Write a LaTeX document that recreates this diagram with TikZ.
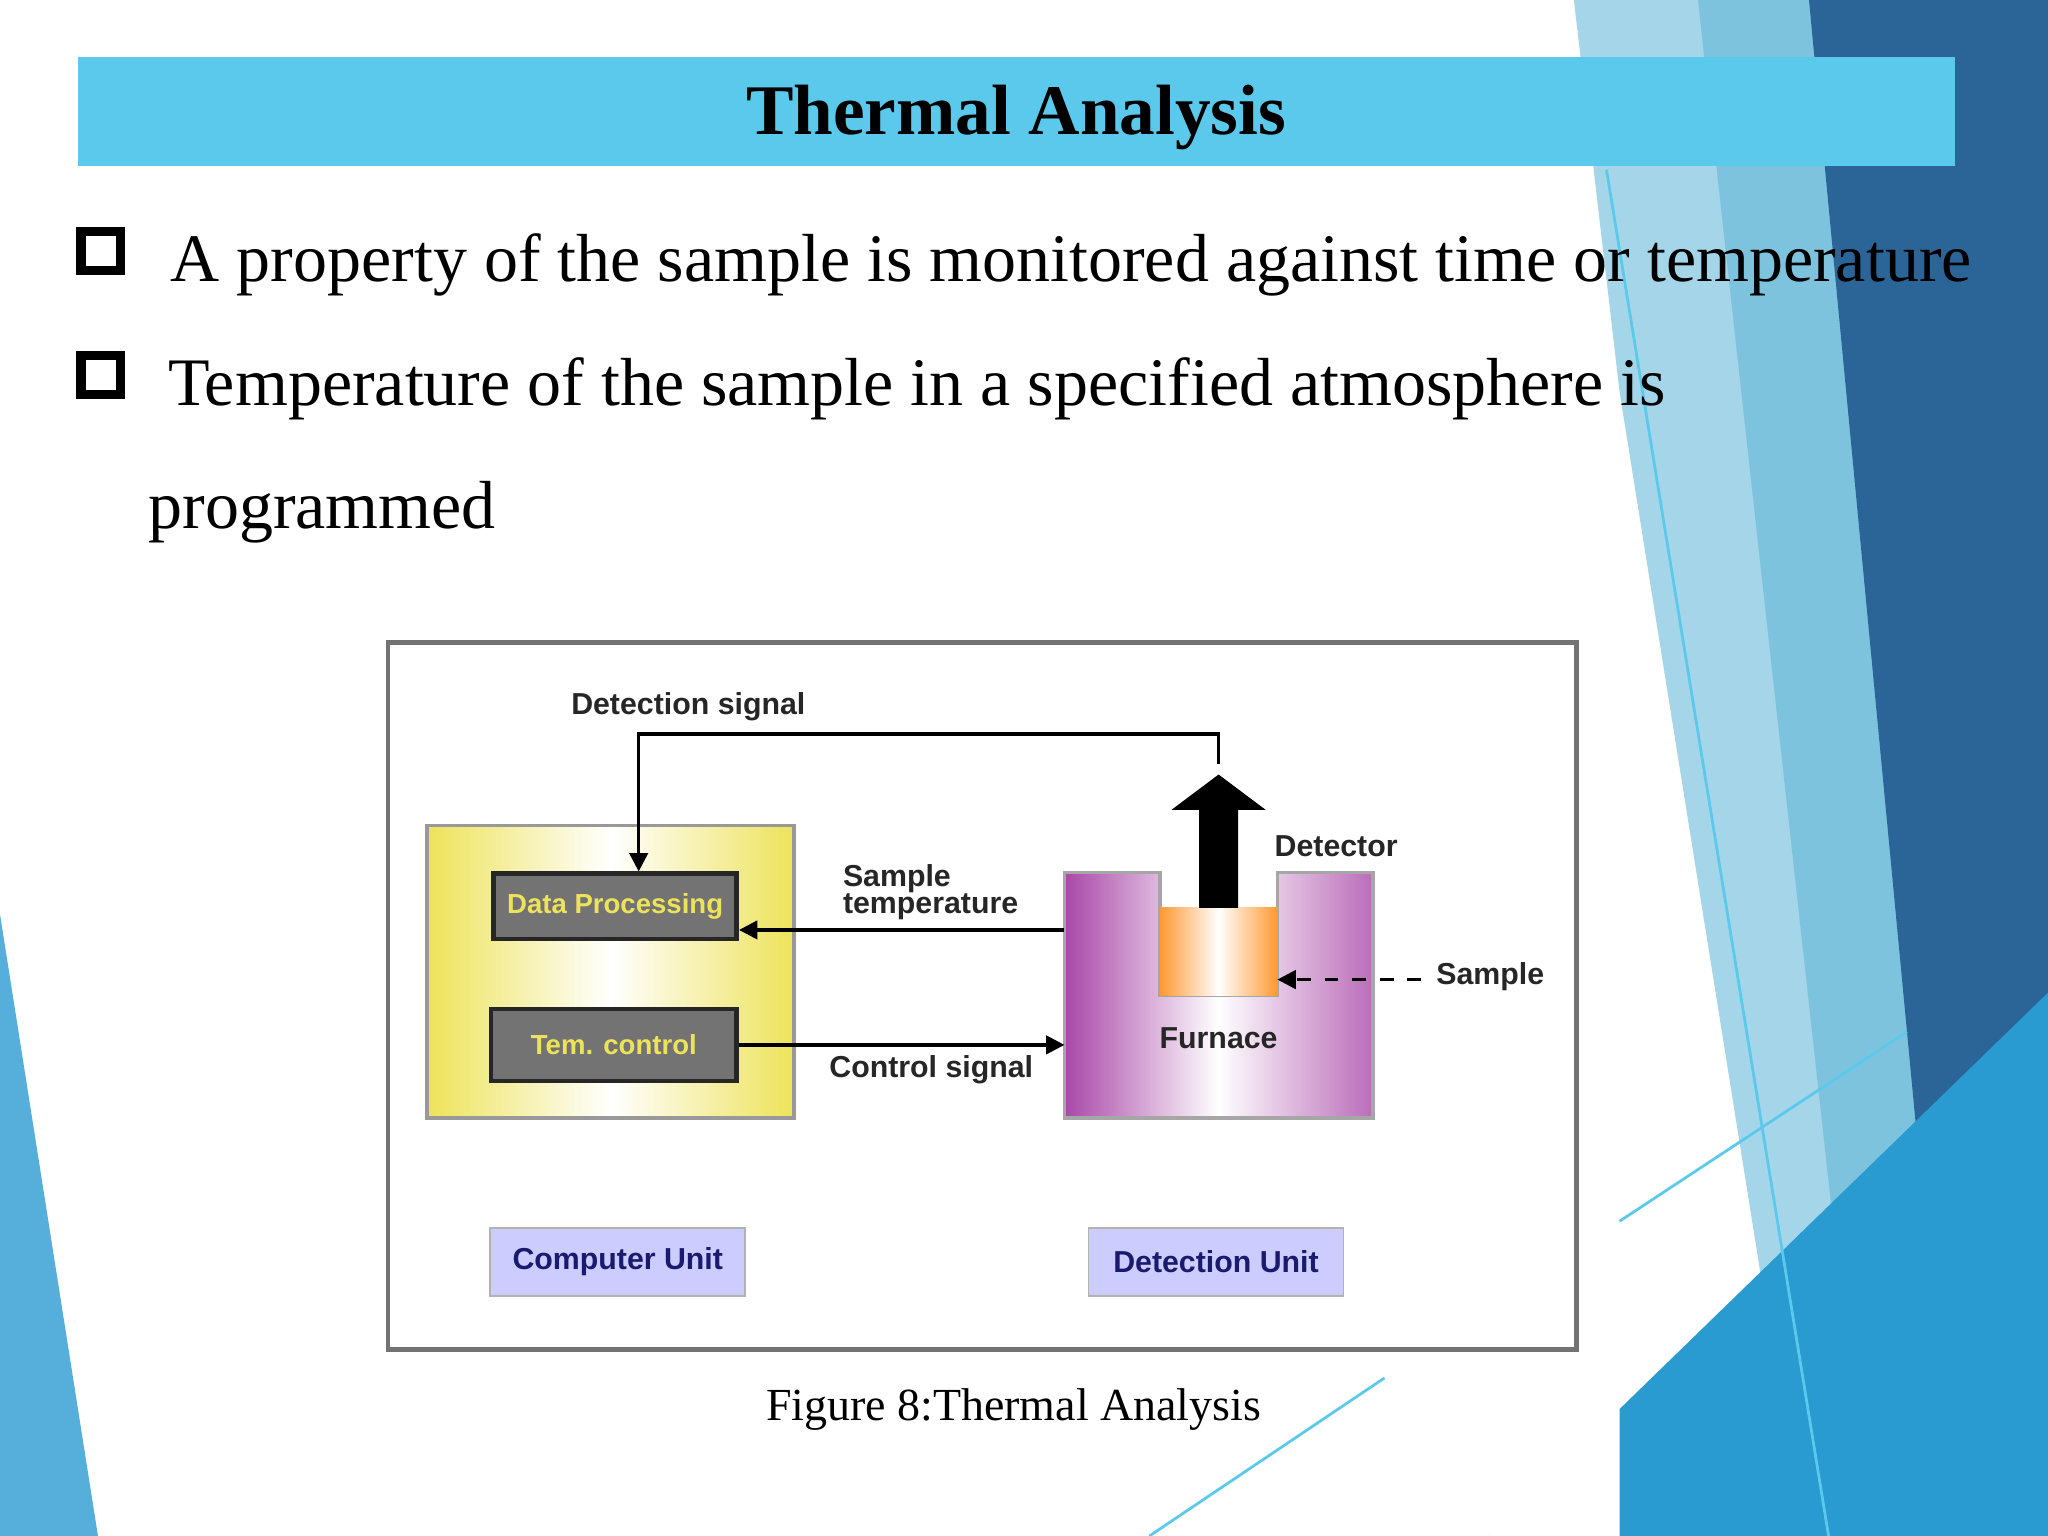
\documentclass[tikz,border=0pt]{standalone}
\usepackage{fontspec}
\setmainfont{Liberation Serif}
\setsansfont{Liberation Sans}
\usetikzlibrary{arrows.meta}
\definecolor{titlebar}{HTML}{5BC9EC}
\definecolor{darkblue}{HTML}{2B6598}
\definecolor{midblue}{HTML}{7EC3DE}
\definecolor{brightblue}{HTML}{2A9BD0}
\definecolor{ylw}{HTML}{EDE35A}
\definecolor{purp}{HTML}{A948A8}
\definecolor{unitfill}{HTML}{CCCCFF}
\definecolor{navy}{HTML}{1A1A6E}
\tikzset{
  lbl/.style={font=\sffamily\bfseries\fontsize{6.6pt}{7pt}\selectfont, text=black!85},
  inner/.style={draw=black!85, line width=1pt, fill=black!55, text=ylw, inner sep=0pt, font=\sffamily\bfseries\fontsize{6pt}{7pt}\selectfont},
  unit/.style={draw=black!30, fill=unitfill, text=navy, font=\sffamily\bfseries\fontsize{6.6pt}{7pt}\selectfont},
  conn/.style={line width=0.7pt, -{Triangle[length=4pt,width=4pt]}},
  bulletbox/.style={draw=black, line width=2pt, fill=white}
}
\begin{document}
\begin{tikzpicture}[x=0.01cm,y=-0.01cm]
\useasboundingbox (0,0) rectangle (1568,1176);
\fill[white] (0,0) rectangle (1568,1176);
% background decoration
\fill[midblue!70] (1205,0) -- (1568,0) -- (1568,1176) -- (1380,1176) -- (1240,300) -- cycle;
\fill[midblue] (1300,0) -- (1568,0) -- (1568,1176) -- (1430,1176) -- cycle;
\fill[darkblue] (1385,0) -- (1568,0) -- (1568,880) -- (1480,1000) -- cycle;
\fill[brightblue!70] (1240,1176) -- (1568,830) -- (1568,1176) -- cycle;
\fill[brightblue] (1140,1176) -- (1568,760) -- (1568,1176) -- (1380,1176) -- cycle;
\fill[brightblue!80!white] (0,700) -- (75,1176) -- (0,1176) -- cycle;
\fill[white] (1240,1055) -- (1240,1176) -- (1140,1176) -- (1210,1055) -- cycle;
\draw[titlebar, line width=0.6pt] (1230,130) -- (1400,1176);
\draw[titlebar, line width=0.6pt] (1240,935) -- (1460,790);
\draw[titlebar, line width=0.6pt] (880,1176) -- (1060,1055);
% title
\fill[titlebar] (60,44) rectangle (1497,127);
\node (title) at (778,90) {\fontsize{15.5pt}{18pt}\selectfont\bfseries Thermal Analysis};
% bullets
\draw[bulletbox] (62,177) rectangle (92,207);
\draw[bulletbox] (62,272) rectangle (92,302);
\node[anchor=west, inner sep=0] (b1) at (130,203) {\fontsize{14.8pt}{17pt}\selectfont A property of the sample is monitored against time or temperature};
\node[anchor=west, inner sep=0] (b2) at (128,298) {\fontsize{14.8pt}{17pt}\selectfont Temperature of the sample in a specified atmosphere is};
\node[anchor=west, inner sep=0] (b3) at (113,392) {\fontsize{14.8pt}{17pt}\selectfont programmed};
% figure frame
\draw[black!55, fill=white, line width=1pt] (297,492) rectangle (1207,1033);
% computer box
\shade[left color=ylw, right color=ylw, middle color=white] (327,632) rectangle (608,856);
\draw[black!40, line width=0.8pt] (327,632) rectangle (608,856);
\node[inner, minimum width=1.86cm, minimum height=0.5cm] (dp) at (471,694) {Data Processing};
\node[inner, minimum width=1.88cm, minimum height=0.55cm] (tc) at (470,800) {Tem. control};
% furnace
\shade[left color=purp, right color=purp!80, middle color=white]
  (815,668) -- (888,668) -- (888,762) -- (978,762) -- (978,668) -- (1051,668) -- (1051,856) -- (815,856) -- cycle;
\draw[black!35, line width=0.8pt] (815,668) -- (888,668) -- (888,762) -- (978,762) -- (978,668) -- (1051,668) -- (1051,856) -- (815,856) -- cycle;
\shade[left color=orange!80, right color=orange!80, middle color=white] (888,695) rectangle (978,762);
\coordinate (furnL) at (815,712);
\coordinate (furnL2) at (815,800);
\coordinate (smp) at (978,750);
% black arrow
\fill[black] (918,695) -- (918,620) -- (897,620) -- (933,593) -- (969,620) -- (948,620) -- (948,695) -- cycle;
% connectors
\coordinate (dtop) at (933,585);
\draw[conn] (dtop) -- (933,562) -- (489,562) -- (dp.north -| 489,0);
\draw[conn] (furnL) -- (dp.east |- furnL);
\draw[conn] (tc.east) -- (furnL2);
\coordinate (smpend) at (1088,750);
\draw[conn, dashed] (smpend) -- (smp);
% labels
\node[lbl] (l1) at (527,541) {Detection signal};
\node[lbl] (l2) at (1023,648) {Detector};
\node[lbl, anchor=west, align=left] (l3) at (633,683) {Sample\\[-1pt]temperature};
\node[lbl] (l4) at (1141,748) {Sample};
\node[lbl] (l5) at (933,795) {Furnace};
\node[lbl] (l6) at (713,819) {Control signal};
% units
\node[unit, minimum width=1.95cm, minimum height=0.52cm] (cu) at (473,966) {Computer Unit};
\node[unit, minimum width=1.95cm, minimum height=0.52cm] (du) at (931,966) {Detection Unit};
% caption
\node (cap) at (776,1079) {\fontsize{10pt}{12pt}\selectfont Figure 8:Thermal Analysis};
\end{tikzpicture}
\end{document}
